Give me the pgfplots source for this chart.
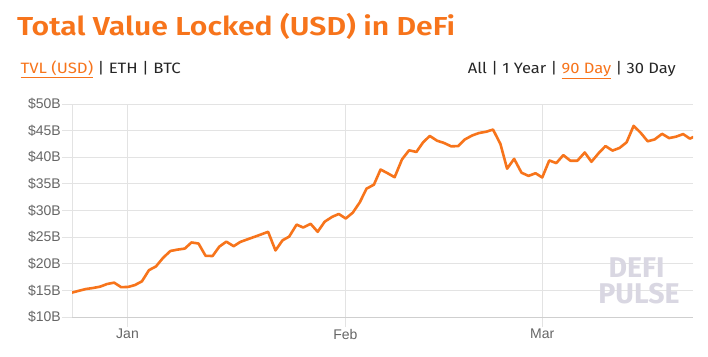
\documentclass[border=0pt]{standalone}
\usepackage{fontspec}
\usepackage{graphicx}
\setmainfont{Liberation Sans}
\newfontfamily\titlefont{Fira Sans SemiBold}
\newfontfamily\subfont{Fira Sans}
\newfontfamily\wmfont{Fira Sans}
\usepackage{pgfplots}
\pgfplotsset{compat=1.18}
\definecolor{tvl}{HTML}{F7741B}
\definecolor{gridc}{HTML}{E3E3E3}
\definecolor{axc}{HTML}{CFCFCF}
\definecolor{lab}{HTML}{666666}
\definecolor{dark}{HTML}{262626}
\definecolor{wm}{HTML}{D9D7E2}
\pgfplotstableread{
d v
-8 14.55
-6.9 14.93
-5.9 15.26
-4.9 15.45
-3.9 15.70
-2.9 16.20
-1.9 16.45
-0.9 15.60
0.1 15.65
1.05 16.00
2.05 16.70
3.05 18.80
4.05 19.50
5.05 21.10
6.1 22.40
7.1 22.65
8.15 22.85
9.1 24.00
10.1 23.80
11.1 21.50
12.1 21.45
13.05 23.20
14.05 24.15
15.1 23.30
16.05 24.10
17.05 24.58
18.05 25.05
19.05 25.53
20.0 26.00
21.05 22.50
22.05 24.40
23.0 25.10
24.05 27.35
25.0 26.80
26.05 27.50
27.05 26.00
28.05 27.90
29.1 28.80
30.05 29.35
31.05 28.50
32.05 29.60
33.05 31.55
34.0 34.10
35.05 34.85
36.0 37.70
37.0 37.00
38.0 36.25
39.05 39.60
40.05 41.30
41.1 41.00
42.05 42.80
43.0 44.00
44.05 43.10
45.0 42.70
46.05 42.05
47.05 42.10
48.0 43.35
49.05 44.10
50.0 44.55
51.05 44.80
52.0 45.20
53.05 42.50
54.0 37.85
55.0 39.70
56.05 37.10
57.05 36.50
58.05 37.00
59.0 36.20
60.0 39.40
61.0 38.90
62.0 40.40
63.0 39.35
64.0 39.35
65.05 40.90
66.0 39.15
67.05 40.80
68.0 42.10
69.0 41.25
70.0 41.75
71.0 42.80
72.0 45.90
73.0 44.60
74.0 43.00
75.0 43.35
76.05 44.40
77.05 43.60
78.0 43.85
79.05 44.35
80.0 43.50
80.5 43.80
}\tvldata
\begin{document}
\begin{tikzpicture}[x=1pt,y=1pt]
\useasboundingbox (0pt,0pt) rectangle (708pt,356pt);
\fill[white] (0pt,0pt) rectangle (708pt,356pt);
\node[anchor=base west, inner sep=0pt, text=tvl, font=\titlefont\fontsize{26}{30}\selectfont] at (17pt,320pt) {\resizebox{438pt}{\height}{Total Value Locked (USD) in DeFi}};
\node[anchor=base west, inner sep=0pt, font=\subfont\fontsize{15}{18}\selectfont] at (20.5pt,282pt) {\resizebox{160pt}{\height}{\textcolor{tvl}{\underline{TVL (USD)}} \textcolor{dark}{| ETH | BTC}}};
\node[anchor=base east, inner sep=0pt, text=dark, font=\subfont\fontsize{15}{18}\selectfont] at (676pt,282pt) {\resizebox{208pt}{\height}{All | 1 Year | \textcolor{tvl}{\underline{90 Day}} | 30 Day}};
\begin{axis}[
  at={(72pt,39pt)}, anchor=south west,
  scale only axis, width=621pt, height=213pt,
  xmin=-7.9, xmax=80.45, ymin=10, ymax=50,
  ytick={10,15,...,50},
  /pgf/number format/assume math mode=true,
  yticklabel={\$\pgfmathprintnumber{\tick}B},
  xtick={0,31,59}, xticklabels={Jan,Feb,Mar},
  grid=major, major grid style={gridc, line width=1pt},
  axis x line*=bottom, axis y line*=left,
  x axis line style={axc, line width=1pt},
  y axis line style={gridc, line width=1pt},
  tick align=outside, major tick length=10pt,
  tick style={gridc, line width=1pt},
  ticklabel style={text=lab, font=\fontsize{14}{16}\selectfont},
  yticklabel style={inner sep=1pt},
  xticklabel style={inner sep=2pt},
  clip=true,
]
\addplot[tvl, line width=2.6pt, line join=round, no markers] table[x=d, y=v] {\tvldata};
\end{axis}
\node[text=wm, font=\wmfont\bfseries\fontsize{28.5}{30}\selectfont] at (636.5pt,88pt) {DEFI};
\node[text=wm, font=\wmfont\bfseries\fontsize{28.5}{30}\selectfont] at (639pt,62pt) {PULSE};
\end{tikzpicture}
\end{document}
